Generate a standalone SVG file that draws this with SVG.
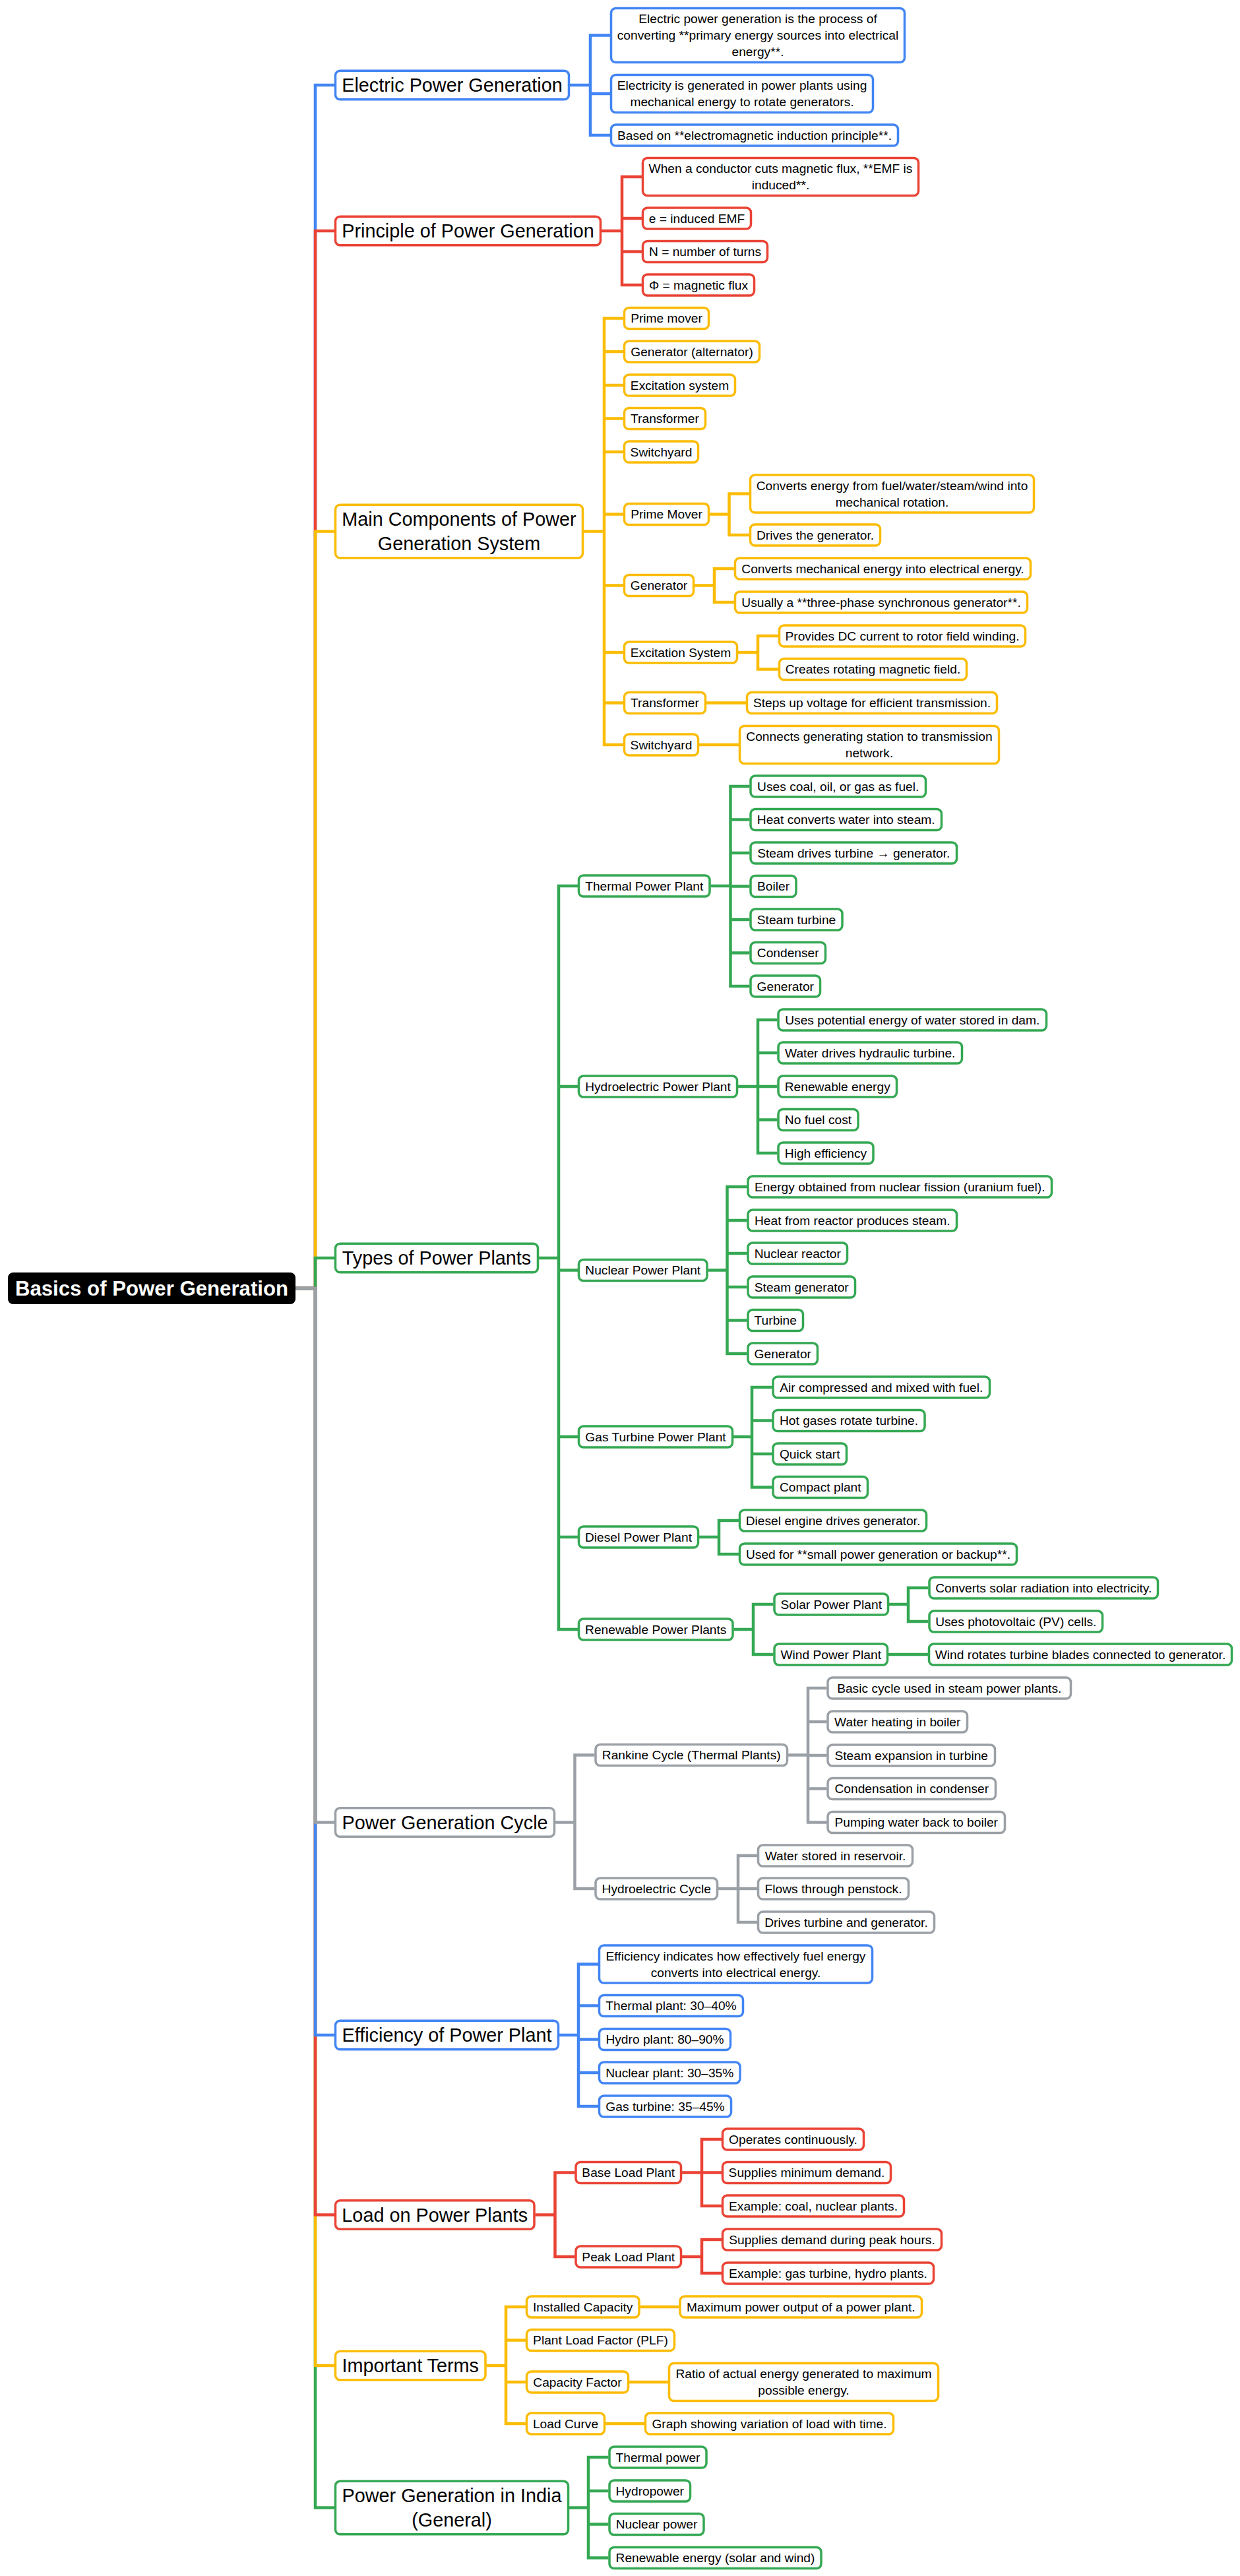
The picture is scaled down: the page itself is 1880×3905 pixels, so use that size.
<svg xmlns="http://www.w3.org/2000/svg" width="1880" height="3905" viewBox="0 0 1880 3905">
<style>
text{font-family:"Liberation Sans",Arial,sans-serif;text-anchor:middle;fill:#000;font-size:19.2px}
.l1 text{font-size:28.8px}
rect{fill:#fff;stroke-width:3.5}
.c path{fill:none;stroke-width:4.5;stroke-linejoin:miter}
.blue rect{stroke:#4285f4}.blue path,path.blue{stroke:#4285f4}
.red rect{stroke:#ea4335}.red path,path.red{stroke:#ea4335}
.yel rect{stroke:#fbbc04}.yel path,path.yel{stroke:#fbbc04}
.grn rect{stroke:#34a853}.grn path,path.grn{stroke:#34a853}
.gry rect{stroke:#9aa0a6}.gry path,path.gry{stroke:#9aa0a6}
#root rect{fill:#000;stroke:none}
#root text{fill:#fff;font-weight:bold;font-size:31.2px}
</style>
<rect width="1880" height="3905" style="fill:#fff;stroke:none"/>
<g id="connectors" class="c">
<path class="blue" d="M448 1953H478V129H507"/>
<path class="red" d="M448 1953H478V350H507"/>
<path class="yel" d="M448 1953H478V805.5H507"/>
<path class="grn" d="M448 1953H478V1907H507"/>
<path class="grn" d="M448 1953H478V3801.5H507"/>
<path class="yel" d="M448 1953H478V3586H507"/>
<path class="red" d="M448 1953H478V3357.5H507"/>
<path class="blue" d="M448 1953H478V3085H507"/>
<path class="gry" d="M448 1953H478V2762.5H507"/>
<g class="blue"><path d="M864 129H895V53.5H925M864 129H895V142H925M864 129H895V205H925"/>
<path d="M848 3085H877V2977.5H907M848 3085H877V3040.5H907M848 3085H877V3091.5H907M848 3085H877V3142H907M848 3085H877V3193H907"/></g>
<g class="red"><path d="M912 350H943V268H973M912 350H943V331H973M912 350H943V381.5H973M912 350H943V432H973"/>
<path d="M811.5 3357.5H841.5V3293.5H871.5M811.5 3357.5H841.5V3421H871.5"/>
<path d="M1034 3293.5H1064V3243H1094M1034 3293.5H1094M1034 3293.5H1064V3344H1094"/>
<path d="M1034 3421H1064V3395H1094M1034 3421H1064V3446H1094"/></g>
<g class="yel"><path d="M885 805.5H916V482.5H945M885 805.5H916V533H945M885 805.5H916V584H945M885 805.5H916V634.5H945M885 805.5H916V685H945M885 805.5H916V779.5H945M885 805.5H916V887.5H945M885 805.5H916V989H945M885 805.5H916V1065.5H945M885 805.5H916V1129H945"/>
<path d="M1076 779.5H1105.5V748.5H1136M1076 779.5H1105.5V811H1136"/>
<path d="M1053 887.5H1083V862H1113M1053 887.5H1083V913H1113"/>
<path d="M1119 989H1149V964H1180M1119 989H1149V1014.5H1180"/>
<path d="M1071 1065.5H1131M1060 1129H1120"/>
<path d="M737.5 3586H767V3497H797M737.5 3586H767V3547.5H797M737.5 3586H767V3611H797M737.5 3586H767V3674H797"/>
<path d="M970.5 3497H1029.5M954 3611H1013M918 3674H977"/></g>
<g class="grn"><path d="M817 1907H847V1343H876M817 1907H847V1647H876M817 1907H847V1925.5H876M817 1907H847V2178H876M817 1907H847V2330H876M817 1907H847V2470H876"/>
<path d="M1077.5 1343H1107.5V1192H1136.5M1077.5 1343H1107.5V1242.5H1136.5M1077.5 1343H1107.5V1293H1136.5M1077.5 1343H1107.5V1343.5H1136.5M1077.5 1343H1107.5V1394H1136.5M1077.5 1343H1107.5V1444.5H1136.5M1077.5 1343H1107.5V1495H1136.5"/>
<path d="M1119 1647H1149V1546H1178.5M1119 1647H1149V1596H1178.5M1119 1647H1178.5M1119 1647H1149V1697.5H1178.5M1119 1647H1149V1748H1178.5"/>
<path d="M1073.5 1925.5H1102.5V1799H1132.5M1073.5 1925.5H1102.5V1850H1132.5M1073.5 1925.5H1102.5V1900H1132.5M1073.5 1925.5H1102.5V1951H1132.5M1073.5 1925.5H1102.5V2001.5H1132.5M1073.5 1925.5H1102.5V2052H1132.5"/>
<path d="M1112 2178H1140V2103H1170.5M1112 2178H1140V2153.5H1170.5M1112 2178H1140V2204H1170.5M1112 2178H1140V2254.5H1170.5"/>
<path d="M1060 2330H1090V2305H1120M1060 2330H1090V2356H1120"/>
<path d="M1112.5 2470H1142V2432H1172.5M1112.5 2470H1142V2508H1172.5"/>
<path d="M1348 2432H1377V2407H1407.5M1348 2432H1377V2458H1407.5M1347 2508H1407"/>
<path d="M863 3801.5H892V3725H922.5M863 3801.5H892V3776H922.5M863 3801.5H892V3826.5H922.5M863 3801.5H892V3877.5H922.5"/></g>
<g class="gry"><path d="M842 2762.5H871.5V2660.5H901.5M842 2762.5H871.5V2863H901.5"/>
<path d="M1195 2660.5H1225V2559H1253.5M1195 2660.5H1225V2610H1253.5M1195 2660.5H1225V2661H1253.5M1195 2660.5H1225V2711.5H1253.5M1195 2660.5H1225V2762.5H1253.5"/>
<path d="M1089 2863H1119V2813H1148M1089 2863H1148M1089 2863H1119V2914H1148"/></g>
</g>
<g id="root"><rect x="12" y="1929" width="436" height="48" rx="8"/><text x="230" y="1964">Basics of Power Generation</text></g>

<g id="n1" class="l1 blue"><rect x="508.5" y="107.25" width="354" height="43.5" rx="7"/><text x="685.5" y="139">Electric Power Generation</text></g>
<g id="n1-1" class="blue"><rect x="926.5" y="12.5" width="445" height="82" rx="7"/><text x="1149" y="35.2">Electric power generation is the process of</text><text x="1149" y="60.2">converting **primary energy sources into electrical</text><text x="1149" y="85.2">energy**.</text></g>
<g id="n1-2" class="blue"><rect x="926.5" y="113.5" width="397" height="57" rx="7"/><text x="1125" y="136.2">Electricity is generated in power plants using</text><text x="1125" y="161.2">mechanical energy to rotate generators.</text></g>
<g id="n1-3" class="blue"><rect x="926.5" y="189" width="435" height="32" rx="7"/><text x="1144" y="211.7">Based on **electromagnetic induction principle**.</text></g>

<g id="n2" class="l1 red"><rect x="508.5" y="328.25" width="402" height="43.5" rx="7"/><text x="709.5" y="360">Principle of Power Generation</text></g>
<g id="n2-1" class="red"><rect x="974.5" y="239.5" width="418" height="57" rx="7"/><text x="1183.5" y="262.2">When a conductor cuts magnetic flux, **EMF is</text><text x="1183.5" y="287.2">induced**.</text></g>
<g id="n2-2" class="red"><rect x="974.5" y="315" width="164" height="32" rx="7"/><text x="1056.5" y="337.7">e = induced EMF</text></g>
<g id="n2-3" class="red"><rect x="974.5" y="365.5" width="189" height="32" rx="7"/><text x="1069" y="388.2">N = number of turns</text></g>
<g id="n2-4" class="red"><rect x="974.5" y="416" width="169" height="32" rx="7"/><text x="1059" y="438.7">Φ = magnetic flux</text></g>

<g id="n3" class="l1 yel"><rect x="508.5" y="765.25" width="375" height="80.5" rx="7"/><text x="696" y="796.8">Main Components of Power</text><text x="696" y="834.2">Generation System</text></g>
<g id="n3-1" class="yel"><rect x="946.5" y="466.5" width="128" height="32" rx="7"/><text x="1010.5" y="489.2">Prime mover</text></g>
<g id="n3-2" class="yel"><rect x="946.5" y="517" width="205" height="32" rx="7"/><text x="1049" y="539.7">Generator (alternator)</text></g>
<g id="n3-3" class="yel"><rect x="946.5" y="568" width="168" height="32" rx="7"/><text x="1030.5" y="590.7">Excitation system</text></g>
<g id="n3-4" class="yel"><rect x="946.5" y="618.5" width="123" height="32" rx="7"/><text x="1008" y="641.2">Transformer</text></g>
<g id="n3-5" class="yel"><rect x="946.5" y="669" width="112" height="32" rx="7"/><text x="1002.5" y="691.7">Switchyard</text></g>
<g id="n3-6" class="yel"><rect x="946.5" y="763.5" width="128" height="32" rx="7"/><text x="1010.5" y="786.2">Prime Mover</text></g>
<g id="n3-6-1" class="yel"><rect x="1137.5" y="720" width="430" height="57" rx="7"/><text x="1352.5" y="742.7">Converts energy from fuel/water/steam/wind into</text><text x="1352.5" y="767.7">mechanical rotation.</text></g>
<g id="n3-6-2" class="yel"><rect x="1137.5" y="795" width="197" height="32" rx="7"/><text x="1236" y="817.7">Drives the generator.</text></g>
<g id="n3-7" class="yel"><rect x="946.5" y="871.5" width="105" height="32" rx="7"/><text x="999" y="894.2">Generator</text></g>
<g id="n3-7-1" class="yel"><rect x="1114.5" y="846" width="448" height="32" rx="7"/><text x="1338.5" y="868.7">Converts mechanical energy into electrical energy.</text></g>
<g id="n3-7-2" class="yel"><rect x="1114.5" y="897" width="443" height="32" rx="7"/><text x="1336" y="919.7">Usually a **three-phase synchronous generator**.</text></g>
<g id="n3-8" class="yel"><rect x="946.5" y="973" width="171" height="32" rx="7"/><text x="1032" y="995.7">Excitation System</text></g>
<g id="n3-8-1" class="yel"><rect x="1181.5" y="948" width="373" height="32" rx="7"/><text x="1368" y="970.7">Provides DC current to rotor field winding.</text></g>
<g id="n3-8-2" class="yel"><rect x="1181.5" y="998.5" width="284" height="32" rx="7"/><text x="1323.5" y="1021.2">Creates rotating magnetic field.</text></g>
<g id="n3-9" class="yel"><rect x="946.5" y="1049.5" width="123" height="32" rx="7"/><text x="1008" y="1072.2">Transformer</text></g>
<g id="n3-9-1" class="yel"><rect x="1132.5" y="1049.5" width="379" height="32" rx="7"/><text x="1322" y="1072.2">Steps up voltage for efficient transmission.</text></g>
<g id="n3-10" class="yel"><rect x="946.5" y="1113" width="112" height="32" rx="7"/><text x="1002.5" y="1135.7">Switchyard</text></g>
<g id="n3-10-1" class="yel"><rect x="1121.5" y="1100.5" width="393" height="57" rx="7"/><text x="1318" y="1123.2">Connects generating station to transmission</text><text x="1318" y="1148.2">network.</text></g>

<g id="n4" class="l1 grn"><rect x="508.5" y="1885.25" width="307" height="43.5" rx="7"/><text x="662" y="1917">Types of Power Plants</text></g>
<g id="n4-1" class="grn"><rect x="877.5" y="1327" width="198.5" height="32" rx="7"/><text x="976.75" y="1349.7">Thermal Power Plant</text></g>
<g id="n4-1-1" class="grn"><rect x="1138" y="1176" width="265.5" height="32" rx="7"/><text x="1270.75" y="1198.7">Uses coal, oil, or gas as fuel.</text></g>
<g id="n4-1-2" class="grn"><rect x="1138" y="1226.5" width="289.5" height="32" rx="7"/><text x="1282.75" y="1249.2">Heat converts water into steam.</text></g>
<g id="n4-1-3" class="grn"><rect x="1138" y="1277" width="312.5" height="32" rx="7"/><text x="1294.25" y="1299.7">Steam drives turbine → generator.</text></g>
<g id="n4-1-4" class="grn"><rect x="1138" y="1327.5" width="69" height="32" rx="7"/><text x="1172.5" y="1350.2">Boiler</text></g>
<g id="n4-1-5" class="grn"><rect x="1138" y="1378" width="139" height="32" rx="7"/><text x="1207.5" y="1400.7">Steam turbine</text></g>
<g id="n4-1-6" class="grn"><rect x="1138" y="1428.5" width="113.5" height="32" rx="7"/><text x="1194.75" y="1451.2">Condenser</text></g>
<g id="n4-1-7" class="grn"><rect x="1138" y="1479" width="105.5" height="32" rx="7"/><text x="1190.75" y="1501.7">Generator</text></g>
<g id="n4-2" class="grn"><rect x="877.5" y="1631" width="240" height="32" rx="7"/><text x="997.5" y="1653.7">Hydroelectric Power Plant</text></g>
<g id="n4-2-1" class="grn"><rect x="1180" y="1530" width="406.5" height="32" rx="7"/><text x="1383.25" y="1552.7">Uses potential energy of water stored in dam.</text></g>
<g id="n4-2-2" class="grn"><rect x="1180" y="1580" width="278.5" height="32" rx="7"/><text x="1319.25" y="1602.7">Water drives hydraulic turbine.</text></g>
<g id="n4-2-3" class="grn"><rect x="1180" y="1631" width="179.5" height="32" rx="7"/><text x="1269.75" y="1653.7">Renewable energy</text></g>
<g id="n4-2-4" class="grn"><rect x="1180" y="1681.5" width="121" height="32" rx="7"/><text x="1240.5" y="1704.2">No fuel cost</text></g>
<g id="n4-2-5" class="grn"><rect x="1180" y="1732" width="144" height="32" rx="7"/><text x="1252" y="1754.7">High efficiency</text></g>
<g id="n4-3" class="grn"><rect x="877.5" y="1909.5" width="194.5" height="32" rx="7"/><text x="974.75" y="1932.2">Nuclear Power Plant</text></g>
<g id="n4-3-1" class="grn"><rect x="1134" y="1783" width="460.5" height="32" rx="7"/><text x="1364.25" y="1805.7">Energy obtained from nuclear fission (uranium fuel).</text></g>
<g id="n4-3-2" class="grn"><rect x="1134" y="1834" width="316.5" height="32" rx="7"/><text x="1292.25" y="1856.7">Heat from reactor produces steam.</text></g>
<g id="n4-3-3" class="grn"><rect x="1134" y="1884" width="150.5" height="32" rx="7"/><text x="1209.25" y="1906.7">Nuclear reactor</text></g>
<g id="n4-3-4" class="grn"><rect x="1134" y="1935" width="162.5" height="32" rx="7"/><text x="1215.25" y="1957.7">Steam generator</text></g>
<g id="n4-3-5" class="grn"><rect x="1134" y="1985.5" width="83.5" height="32" rx="7"/><text x="1175.75" y="2008.2">Turbine</text></g>
<g id="n4-3-6" class="grn"><rect x="1134" y="2036" width="105.5" height="32" rx="7"/><text x="1186.75" y="2058.7">Generator</text></g>
<g id="n4-4" class="grn"><rect x="877.5" y="2162" width="233" height="32" rx="7"/><text x="994" y="2184.7">Gas Turbine Power Plant</text></g>
<g id="n4-4-1" class="grn"><rect x="1172" y="2087" width="328.5" height="32" rx="7"/><text x="1336.25" y="2109.7">Air compressed and mixed with fuel.</text></g>
<g id="n4-4-2" class="grn"><rect x="1172" y="2137.5" width="230" height="32" rx="7"/><text x="1287" y="2160.2">Hot gases rotate turbine.</text></g>
<g id="n4-4-3" class="grn"><rect x="1172" y="2188" width="111.5" height="32" rx="7"/><text x="1227.75" y="2210.7">Quick start</text></g>
<g id="n4-4-4" class="grn"><rect x="1172" y="2238.5" width="143.5" height="32" rx="7"/><text x="1243.75" y="2261.2">Compact plant</text></g>
<g id="n4-5" class="grn"><rect x="877.5" y="2314" width="181" height="32" rx="7"/><text x="968" y="2336.7">Diesel Power Plant</text></g>
<g id="n4-5-1" class="grn"><rect x="1121.5" y="2289" width="283" height="32" rx="7"/><text x="1263" y="2311.7">Diesel engine drives generator.</text></g>
<g id="n4-5-2" class="grn"><rect x="1121.5" y="2340" width="420" height="32" rx="7"/><text x="1331.5" y="2362.7">Used for **small power generation or backup**.</text></g>
<g id="n4-6" class="grn"><rect x="877.5" y="2454" width="233.5" height="32" rx="7"/><text x="994.25" y="2476.7">Renewable Power Plants</text></g>
<g id="n4-6-1" class="grn"><rect x="1174" y="2416" width="172.5" height="32" rx="7"/><text x="1260.25" y="2438.7">Solar Power Plant</text></g>
<g id="n4-6-1-1" class="grn"><rect x="1409" y="2391" width="346.5" height="32" rx="7"/><text x="1582.25" y="2413.7">Converts solar radiation into electricity.</text></g>
<g id="n4-6-1-2" class="grn"><rect x="1409" y="2442" width="262.5" height="32" rx="7"/><text x="1540.25" y="2464.7">Uses photovoltaic (PV) cells.</text></g>
<g id="n4-6-2" class="grn"><rect x="1174" y="2492" width="171.5" height="32" rx="7"/><text x="1259.75" y="2514.7">Wind Power Plant</text></g>
<g id="n4-6-2-1" class="grn"><rect x="1408.5" y="2492" width="459" height="32" rx="7"/><text x="1638" y="2514.7">Wind rotates turbine blades connected to generator.</text></g>

<g id="n5" class="l1 gry"><rect x="508.5" y="2740.75" width="332" height="43.5" rx="7"/><text x="674.5" y="2772.5">Power Generation Cycle</text></g>
<g id="n5-1" class="gry"><rect x="903" y="2644.5" width="290.5" height="32" rx="7"/><text x="1048.25" y="2667.2">Rankine Cycle (Thermal Plants)</text></g>
<g id="n5-1-1" class="gry"><rect x="1255" y="2543" width="368.5" height="32" rx="7"/><text x="1439.25" y="2565.7">Basic cycle used in steam power plants.</text></g>
<g id="n5-1-2" class="gry"><rect x="1255" y="2594" width="211.5" height="32" rx="7"/><text x="1360.75" y="2616.7">Water heating in boiler</text></g>
<g id="n5-1-3" class="gry"><rect x="1255" y="2645" width="253.5" height="32" rx="7"/><text x="1381.75" y="2667.7">Steam expansion in turbine</text></g>
<g id="n5-1-4" class="gry"><rect x="1255" y="2695.5" width="254.5" height="32" rx="7"/><text x="1382.25" y="2718.2">Condensation in condenser</text></g>
<g id="n5-1-5" class="gry"><rect x="1255" y="2746.5" width="268.5" height="32" rx="7"/><text x="1389.25" y="2769.2">Pumping water back to boiler</text></g>
<g id="n5-2" class="gry"><rect x="903" y="2847" width="184.5" height="32" rx="7"/><text x="995.25" y="2869.7">Hydroelectric Cycle</text></g>
<g id="n5-2-1" class="gry"><rect x="1149.5" y="2797" width="234" height="32" rx="7"/><text x="1266.5" y="2819.7">Water stored in reservoir.</text></g>
<g id="n5-2-2" class="gry"><rect x="1149.5" y="2847" width="228" height="32" rx="7"/><text x="1263.5" y="2869.7">Flows through penstock.</text></g>
<g id="n5-2-3" class="gry"><rect x="1149.5" y="2898" width="267" height="32" rx="7"/><text x="1283" y="2920.7">Drives turbine and generator.</text></g>

<g id="n6" class="l1 blue"><rect x="508.5" y="3063.25" width="338" height="43.5" rx="7"/><text x="677.5" y="3095">Efficiency of Power Plant</text></g>
<g id="n6-1" class="blue"><rect x="908.5" y="2949" width="414" height="57" rx="7"/><text x="1115.5" y="2971.7">Efficiency indicates how effectively fuel energy</text><text x="1115.5" y="2996.7">converts into electrical energy.</text></g>
<g id="n6-2" class="blue"><rect x="908.5" y="3024.5" width="218" height="32" rx="7"/><text x="1017.5" y="3047.2">Thermal plant: 30–40%</text></g>
<g id="n6-3" class="blue"><rect x="908.5" y="3075.5" width="199" height="32" rx="7"/><text x="1008" y="3098.2">Hydro plant: 80–90%</text></g>
<g id="n6-4" class="blue"><rect x="908.5" y="3126" width="213.5" height="32" rx="7"/><text x="1015.25" y="3148.7">Nuclear plant: 30–35%</text></g>
<g id="n6-5" class="blue"><rect x="908.5" y="3177" width="200" height="32" rx="7"/><text x="1008.5" y="3199.7">Gas turbine: 35–45%</text></g>

<g id="n7" class="l1 red"><rect x="508.5" y="3335.75" width="301.5" height="43.5" rx="7"/><text x="659.25" y="3367.5">Load on Power Plants</text></g>
<g id="n7-1" class="red"><rect x="873" y="3277.5" width="159.5" height="32" rx="7"/><text x="952.75" y="3300.2">Base Load Plant</text></g>
<g id="n7-1-1" class="red"><rect x="1095.5" y="3227" width="214" height="32" rx="7"/><text x="1202.5" y="3249.7">Operates continuously.</text></g>
<g id="n7-1-2" class="red"><rect x="1095.5" y="3277.5" width="255" height="32" rx="7"/><text x="1223" y="3300.2">Supplies minimum demand.</text></g>
<g id="n7-1-3" class="red"><rect x="1095.5" y="3328" width="275" height="32" rx="7"/><text x="1233" y="3350.7">Example: coal, nuclear plants.</text></g>
<g id="n7-2" class="red"><rect x="873" y="3405" width="159.5" height="32" rx="7"/><text x="952.75" y="3427.7">Peak Load Plant</text></g>
<g id="n7-2-1" class="red"><rect x="1095.5" y="3379" width="332" height="32" rx="7"/><text x="1261.5" y="3401.7">Supplies demand during peak hours.</text></g>
<g id="n7-2-2" class="red"><rect x="1095.5" y="3430" width="320" height="32" rx="7"/><text x="1255.5" y="3452.7">Example: gas turbine, hydro plants.</text></g>

<g id="n8" class="l1 yel"><rect x="508.5" y="3564.25" width="227.5" height="43.5" rx="7"/><text x="622.25" y="3596">Important Terms</text></g>
<g id="n8-1" class="yel"><rect x="798.5" y="3481" width="170.5" height="32" rx="7"/><text x="883.75" y="3503.7">Installed Capacity</text></g>
<g id="n8-1-1" class="yel"><rect x="1031" y="3481" width="366.5" height="32" rx="7"/><text x="1214.25" y="3503.7">Maximum power output of a power plant.</text></g>
<g id="n8-2" class="yel"><rect x="798.5" y="3531.5" width="224" height="32" rx="7"/><text x="910.5" y="3554.2">Plant Load Factor (PLF)</text></g>
<g id="n8-3" class="yel"><rect x="798.5" y="3595" width="154" height="32" rx="7"/><text x="875.5" y="3617.7">Capacity Factor</text></g>
<g id="n8-3-1" class="yel"><rect x="1014.5" y="3582.5" width="408" height="57" rx="7"/><text x="1218.5" y="3605.2">Ratio of actual energy generated to maximum</text><text x="1218.5" y="3630.2">possible energy.</text></g>
<g id="n8-4" class="yel"><rect x="798.5" y="3658" width="118" height="32" rx="7"/><text x="857.5" y="3680.7">Load Curve</text></g>
<g id="n8-4-1" class="yel"><rect x="978.5" y="3658" width="376" height="32" rx="7"/><text x="1166.5" y="3680.7">Graph showing variation of load with time.</text></g>

<g id="n9" class="l1 grn"><rect x="508.5" y="3761.25" width="353" height="80.5" rx="7"/><text x="685" y="3792.8">Power Generation in India</text><text x="685" y="3830.2">(General)</text></g>
<g id="n9-1" class="grn"><rect x="924" y="3709" width="147" height="32" rx="7"/><text x="997.5" y="3731.7">Thermal power</text></g>
<g id="n9-2" class="grn"><rect x="924" y="3760" width="122.5" height="32" rx="7"/><text x="985.25" y="3782.7">Hydropower</text></g>
<g id="n9-3" class="grn"><rect x="924" y="3810.5" width="143" height="32" rx="7"/><text x="995.5" y="3833.2">Nuclear power</text></g>
<g id="n9-4" class="grn"><rect x="924" y="3861.5" width="321" height="32" rx="7"/><text x="1084.5" y="3884.2">Renewable energy (solar and wind)</text></g>
</svg>
